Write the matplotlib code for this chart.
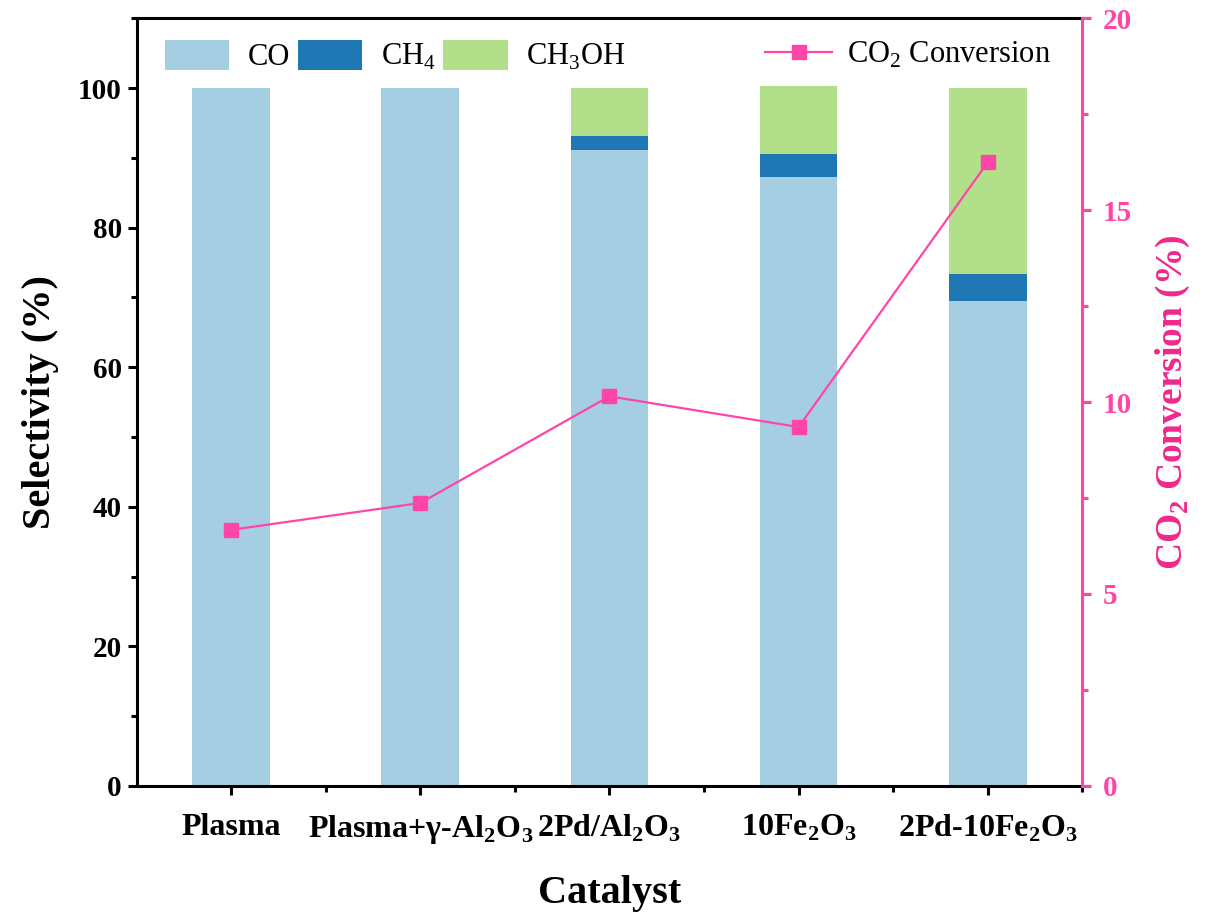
import matplotlib
matplotlib.use('Agg')
import matplotlib.pyplot as plt
import numpy as np

plt.rcParams['font.family'] = 'Liberation Serif'
plt.rcParams['mathtext.fontset'] = 'custom'
plt.rcParams['mathtext.rm'] = 'Liberation Serif'
plt.rcParams['mathtext.bf'] = 'Liberation Serif:bold'

# data
catalysts = ['Plasma', 'Plasma+γ-Al$_\\mathbf{2}$O$_\\mathbf{3}$', '2Pd/Al$_\\mathbf{2}$O$_\\mathbf{3}$',
             '10Fe$_\\mathbf{2}$O$_\\mathbf{3}$', '2Pd-10Fe$_\\mathbf{2}$O$_\\mathbf{3}$']
co = [100.0, 100.0, 91.2, 87.3, 69.5]
ch4 = [0.0, 0.0, 1.9, 3.2, 3.9]
ch3oh = [0.0, 0.0, 6.9, 9.8, 26.6]
co2_conv = [6.67, 7.37, 10.15, 9.35, 16.25]

c_co = '#a6cee3'
c_ch4 = '#1f78b4'
c_ch3oh = '#b2df8a'
pink = '#ff46a8'
pink_lab = '#f0288c'

fig = plt.figure(figsize=(12.08, 9.18), dpi=100)
ax = fig.add_axes([0.113, 0.144, 0.783, 0.836])

x = np.arange(len(catalysts))
w = 0.41
co = np.array(co)
ch4 = np.array(ch4)
ch3oh = np.array(ch3oh)
b1 = ax.bar(x, co, w, color=c_co, label='CO')
b2 = ax.bar(x, ch4, w, bottom=co, color=c_ch4, label='CH$_4$')
b3 = ax.bar(x, ch3oh, w, bottom=co + ch4, color=c_ch3oh, label='CH$_3$OH')

ax.set_xlim(-0.5, 4.5)
ax.set_ylim(0, 110)
ax.set_yticks([0, 20, 40, 60, 80, 100])
ax.set_yticks(np.arange(10, 111, 20), minor=True)
ax.set_xticks(x)
ax.set_xticks(np.arange(0.5, 4.6, 1), minor=True)
ax.set_xticklabels(catalysts)
for lab in ax.get_yticklabels():
    lab.set_fontweight('bold')
    lab.set_fontsize(21)
for lab in ax.get_xticklabels():
    lab.set_fontweight('bold')
    lab.set_fontsize(23)
ax.tick_params(which='major', length=6.5, width=2.2, pad=4)
ax.tick_params(which='minor', length=4, width=2.2)
ax.tick_params(axis='x', which='major', pad=13)
for s in ax.spines.values():
    s.set_linewidth(2.2)
ax.set_ylabel('Selectivity (%)', fontsize=29, fontweight='bold', labelpad=14)
ax.set_xlabel('Catalyst', fontsize=29, fontweight='bold', labelpad=21)

ax2 = ax.twinx()
ln, = ax2.plot(x, co2_conv, '-s', color=pink, lw=1.6, ms=10.5, label='CO$_2$ Conversion')
ax2.set_ylim(0, 20)
ax2.set_yticks([0, 5, 10, 15, 20])
ax2.set_yticks(np.arange(2.5, 20, 5), minor=True)
ax2.spines['right'].set_color(pink)
ax2.spines['right'].set_linewidth(2.2)
ax2.spines['left'].set_visible(False)
ax2.spines['top'].set_visible(False)
ax2.spines['bottom'].set_visible(False)
ax.spines['right'].set_visible(False)
ax2.tick_params(which='major', length=6.5, width=2.2, color=pink, labelcolor=pink, pad=8)
ax2.tick_params(which='minor', length=4, width=2.2, color=pink)
for lab in ax2.get_yticklabels():
    lab.set_fontweight('bold')
    lab.set_fontsize(21)
ax2.set_ylabel('CO$_\\mathbf{2}$ Conversion (%)', fontsize=27, fontweight='bold', color=pink_lab, labelpad=16)

ax.legend(handles=[b1, b2, b3], loc='upper left', ncol=3, frameon=False, fontsize=22,
          handlelength=2.12, handleheight=1.15, columnspacing=0.25, handletextpad=0.6,
          borderaxespad=0.3, bbox_to_anchor=(0.007, 1.0))
ax2.legend(handles=[ln], loc='upper right', frameon=False, fontsize=22,
           handlelength=2.2, handletextpad=0.5, borderaxespad=0.3, bbox_to_anchor=(0.99, 1.0))

fig.savefig('out.png', dpi=100)
